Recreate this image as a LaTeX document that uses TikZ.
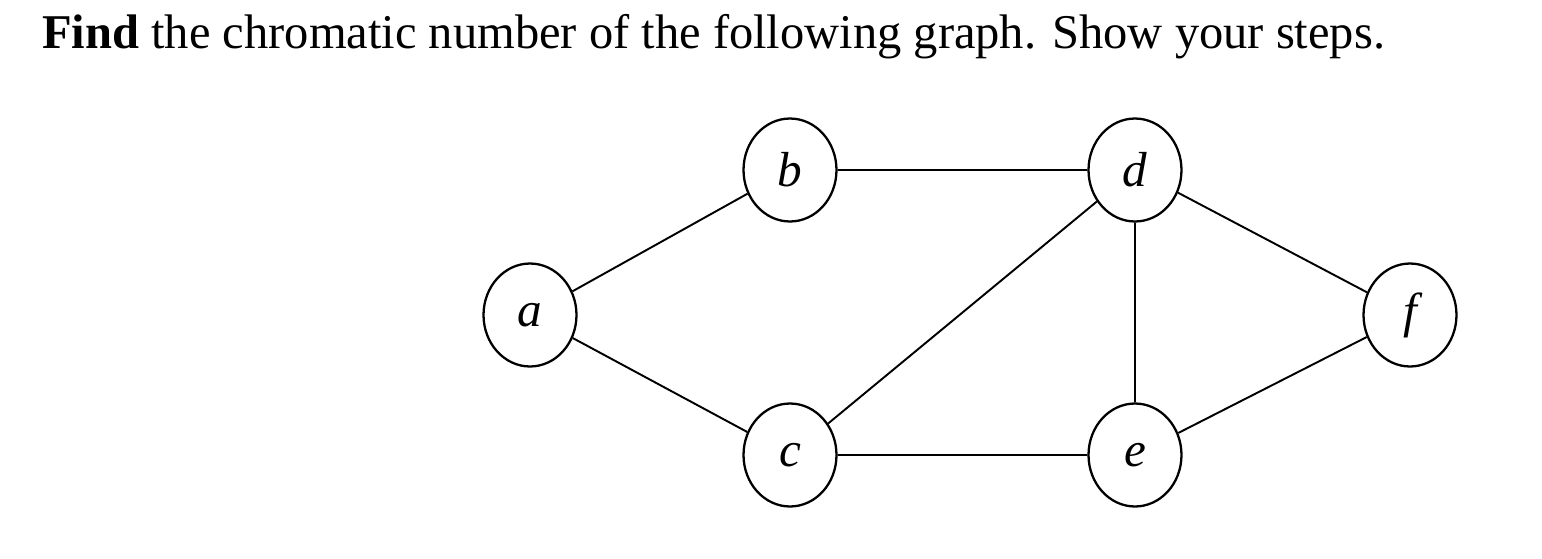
\documentclass[tikz,border=0pt]{standalone}
\usepackage{fontspec}
\setmainfont{Liberation Serif}
\usetikzlibrary{shapes.geometric}
\begin{document}
\begin{tikzpicture}[x=0.02cm,y=-0.02cm,
  vtx/.style={draw,ellipse,line width=1.3pt,minimum width=1.86cm,minimum height=2.06cm,inner sep=0pt,font=\fontsize{28}{32}\selectfont\itshape},
  edge/.style={line width=1.1pt}]
\useasboundingbox (0,0) rectangle (1542,558);
\node[anchor=base west,inner sep=0pt,font=\fontsize{27.6}{32}\selectfont] (title) at (42,48) {\textbf{Find} the chromatic number of the following graph. Show your steps.};
\node[vtx] (a) at (530,315) {a};
\node[vtx] (b) at (790,170) {b};
\node[vtx] (d) at (1135,170) {d};
\node[vtx] (c) at (790,455) {c};
\node[vtx] (e) at (1135,455) {e};
\node[vtx] (f) at (1410,315) {f};
\draw[edge] (a)--(b) (a)--(c) (b)--(d) (c)--(d) (c)--(e) (d)--(e) (d)--(f) (e)--(f);
\end{tikzpicture}
\end{document}
